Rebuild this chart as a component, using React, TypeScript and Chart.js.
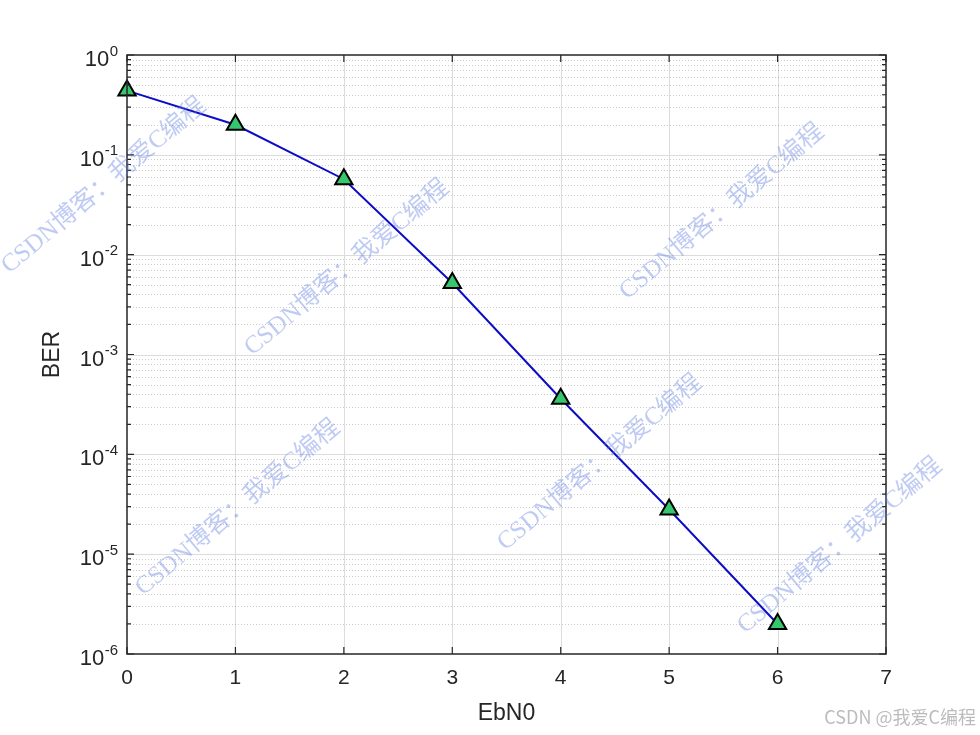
import React, { useEffect, useRef } from 'react';
import { Chart, registerables } from 'chart.js';

Chart.register(...registerables);

// ---- data ----
const ebn0: number[] = [0, 1, 2, 3, 4, 5, 6];
const ber: number[] = [0.44, 0.2, 0.057, 0.0052, 3.6e-4, 2.8e-5, 2.0e-6];
const xTickValues: number[] = [0, 1, 2, 3, 4, 5, 6, 7];
const yExponents: number[] = [0, -1, -2, -3, -4, -5, -6];
const xTitle = 'EbN0';
const yTitle = 'BER';
const watermarkText = 'CSDN博客：我爱C编程';
const footerText = 'CSDN @我爱C编程';
// watermark centres (page pixels)
const watermarkSpots: number[][] = [
  [104, 186],
  [347, 268],
  [722, 212],
  [238, 508],
  [600, 463],
  [840, 546],
];

const TEXT = '#262626';
const SANS = '"Liberation Sans", Arial, Helvetica, sans-serif';

const matlabPlugin = {
  id: 'matlabAxes',
  beforeDatasetsDraw(chart: any) {
    const { ctx, chartArea } = chart;
    const { left, right, top, bottom } = chartArea;
    const xs = chart.scales.x;
    const ys = chart.scales.y;
    ctx.save();
    ctx.lineWidth = 1;
    // vertical major grid
    ctx.strokeStyle = '#dcdcdc';
    ctx.setLineDash([]);
    for (const v of xTickValues) {
      const px = Math.round(xs.getPixelForValue(v)) + 0.5;
      if (px <= left + 1 || px >= right - 1) continue;
      ctx.beginPath();
      ctx.moveTo(px, top);
      ctx.lineTo(px, bottom);
      ctx.stroke();
    }
    // horizontal minor (dotted)
    ctx.strokeStyle = 'rgba(0,0,0,0.2)';
    ctx.setLineDash([1, 2]);
    for (const k of yExponents) {
      if (k === 0) continue;
      for (let m = 2; m <= 9; m++) {
        const py = Math.round(ys.getPixelForValue(m * Math.pow(10, k))) + 0.5;
        ctx.beginPath();
        ctx.moveTo(left, py);
        ctx.lineTo(right, py);
        ctx.stroke();
      }
    }
    // horizontal major
    ctx.setLineDash([]);
    ctx.strokeStyle = '#dcdcdc';
    for (const k of yExponents) {
      const py = Math.round(ys.getPixelForValue(Math.pow(10, k))) + 0.5;
      if (py <= top + 1 || py >= bottom - 1) continue;
      ctx.beginPath();
      ctx.moveTo(left, py);
      ctx.lineTo(right, py);
      ctx.stroke();
    }
    ctx.restore();
  },
  afterDatasetsDraw(chart: any) {
    const { ctx, chartArea } = chart;
    const { left, right, top, bottom } = chartArea;
    const xs = chart.scales.x;
    const ys = chart.scales.y;
    ctx.save();
    // box
    ctx.strokeStyle = TEXT;
    ctx.lineWidth = 1.5;
    ctx.setLineDash([]);
    ctx.strokeRect(left, top, right - left, bottom - top);
    // x ticks (bottom + top, inward)
    ctx.lineWidth = 1.2;
    for (const v of xTickValues) {
      const px = xs.getPixelForValue(v);
      ctx.beginPath();
      ctx.moveTo(px, bottom);
      ctx.lineTo(px, bottom - 7);
      ctx.moveTo(px, top);
      ctx.lineTo(px, top + 7);
      ctx.stroke();
    }
    // y ticks (left + right, inward), major + minor
    for (const k of yExponents) {
      const py = ys.getPixelForValue(Math.pow(10, k));
      ctx.beginPath();
      ctx.moveTo(left, py);
      ctx.lineTo(left + 7, py);
      ctx.moveTo(right, py);
      ctx.lineTo(right - 7, py);
      ctx.stroke();
      if (k === 0) continue;
      for (let m = 2; m <= 9; m++) {
        const pm = ys.getPixelForValue(m * Math.pow(10, k));
        ctx.beginPath();
        ctx.moveTo(left, pm);
        ctx.lineTo(left + 4, pm);
        ctx.moveTo(right, pm);
        ctx.lineTo(right - 4, pm);
        ctx.stroke();
      }
    }
    // y tick labels 10^k
    ctx.fillStyle = TEXT;
    ctx.textAlign = 'right';
    ctx.textBaseline = 'alphabetic';
    const labelRight = left - 9;
    for (const k of yExponents) {
      const py = ys.getPixelForValue(Math.pow(10, k));
      const exp = k === 0 ? '0' : '-' + Math.abs(k);
      ctx.font = '15px ' + SANS;
      const ew = ctx.measureText(exp).width;
      ctx.fillText(exp, labelRight, py + 0.5);
      ctx.font = '22px ' + SANS;
      ctx.fillText('10', labelRight - ew - 0.5, py + 11);
    }
    // axis titles
    ctx.font = '23px ' + SANS;
    ctx.textAlign = 'center';
    ctx.textBaseline = 'middle';
    ctx.fillText(xTitle, (left + right) / 2, 714);
    ctx.save();
    ctx.translate(53, (top + bottom) / 2);
    ctx.rotate(-Math.PI / 2);
    ctx.fillText(yTitle, 0, 0);
    ctx.restore();
    ctx.restore();
  },
  afterDraw(chart: any) {
    const { ctx } = chart;
    ctx.save();
    // watermarks
    ctx.fillStyle = 'rgba(95,125,225,0.4)';
    ctx.font = '25px "Liberation Serif", "Noto Sans CJK SC", serif';
    ctx.textAlign = 'center';
    ctx.textBaseline = 'middle';
    for (const [cx, cy] of watermarkSpots) {
      ctx.save();
      ctx.translate(cx, cy);
      ctx.rotate((-40 * Math.PI) / 180);
      ctx.fillText(watermarkText, 0, 0);
      ctx.restore();
    }
    // footer
    ctx.fillStyle = '#bcbcbc';
    ctx.font = '18px "Noto Sans CJK SC", ' + SANS;
    ctx.textAlign = 'right';
    ctx.textBaseline = 'middle';
    ctx.fillText(footerText, 976, 717);
    ctx.restore();
  },
};

export default function App() {
  const canvasRef = useRef<HTMLCanvasElement | null>(null);

  useEffect(() => {
    if (!canvasRef.current) return;
    const chart = new Chart(canvasRef.current, {
      type: 'line',
      data: {
        datasets: [
          {
            label: 'BER',
            data: ebn0.map((x, i) => ({ x, y: ber[i] })),
            borderColor: '#0c0cc4',
            borderWidth: 2,
            pointStyle: 'triangle',
            pointRadius: 10,
            pointHoverRadius: 10,
            pointBackgroundColor: '#36c66e',
            pointBorderColor: '#000000',
            pointBorderWidth: 2,
            tension: 0,
            clip: false as any,
          },
        ],
      },
      options: {
        responsive: false,
        maintainAspectRatio: false,
        animation: false,
        devicePixelRatio: 1,
        events: [],
        layout: { padding: { top: 55, right: 94, left: 0, bottom: 0 } },
        plugins: {
          legend: { display: false },
          tooltip: { enabled: false },
          title: { display: false },
        },
        scales: {
          x: {
            type: 'linear',
            min: 0,
            max: 7,
            afterFit: (s: any) => {
              s.height = 81;
            },
            afterBuildTicks: (s: any) => {
              s.ticks = xTickValues.map((v) => ({ value: v }));
            },
            ticks: {
              padding: 12,
              color: TEXT,
              font: { size: 21, family: SANS },
              callback: (v: any) => String(v),
              maxRotation: 0,
              autoSkip: false,
            },
            grid: { display: false, drawTicks: false },
            border: { display: false },
          },
          y: {
            type: 'logarithmic',
            min: 1e-6,
            max: 1,
            afterFit: (s: any) => {
              s.width = 127;
            },
            ticks: { display: false },
            grid: { display: false, drawTicks: false },
            border: { display: false },
          },
        },
      },
      plugins: [matlabPlugin],
    });
    return () => chart.destroy();
  }, []);

  return (
    <div
      style={{
        position: 'absolute',
        left: 0,
        top: 0,
        width: 980,
        height: 735,
        background: '#ffffff',
      }}
    >
      <canvas
        ref={canvasRef}
        width={980}
        height={735}
        style={{ display: 'block', width: 980, height: 735 }}
      />
    </div>
  );
}
